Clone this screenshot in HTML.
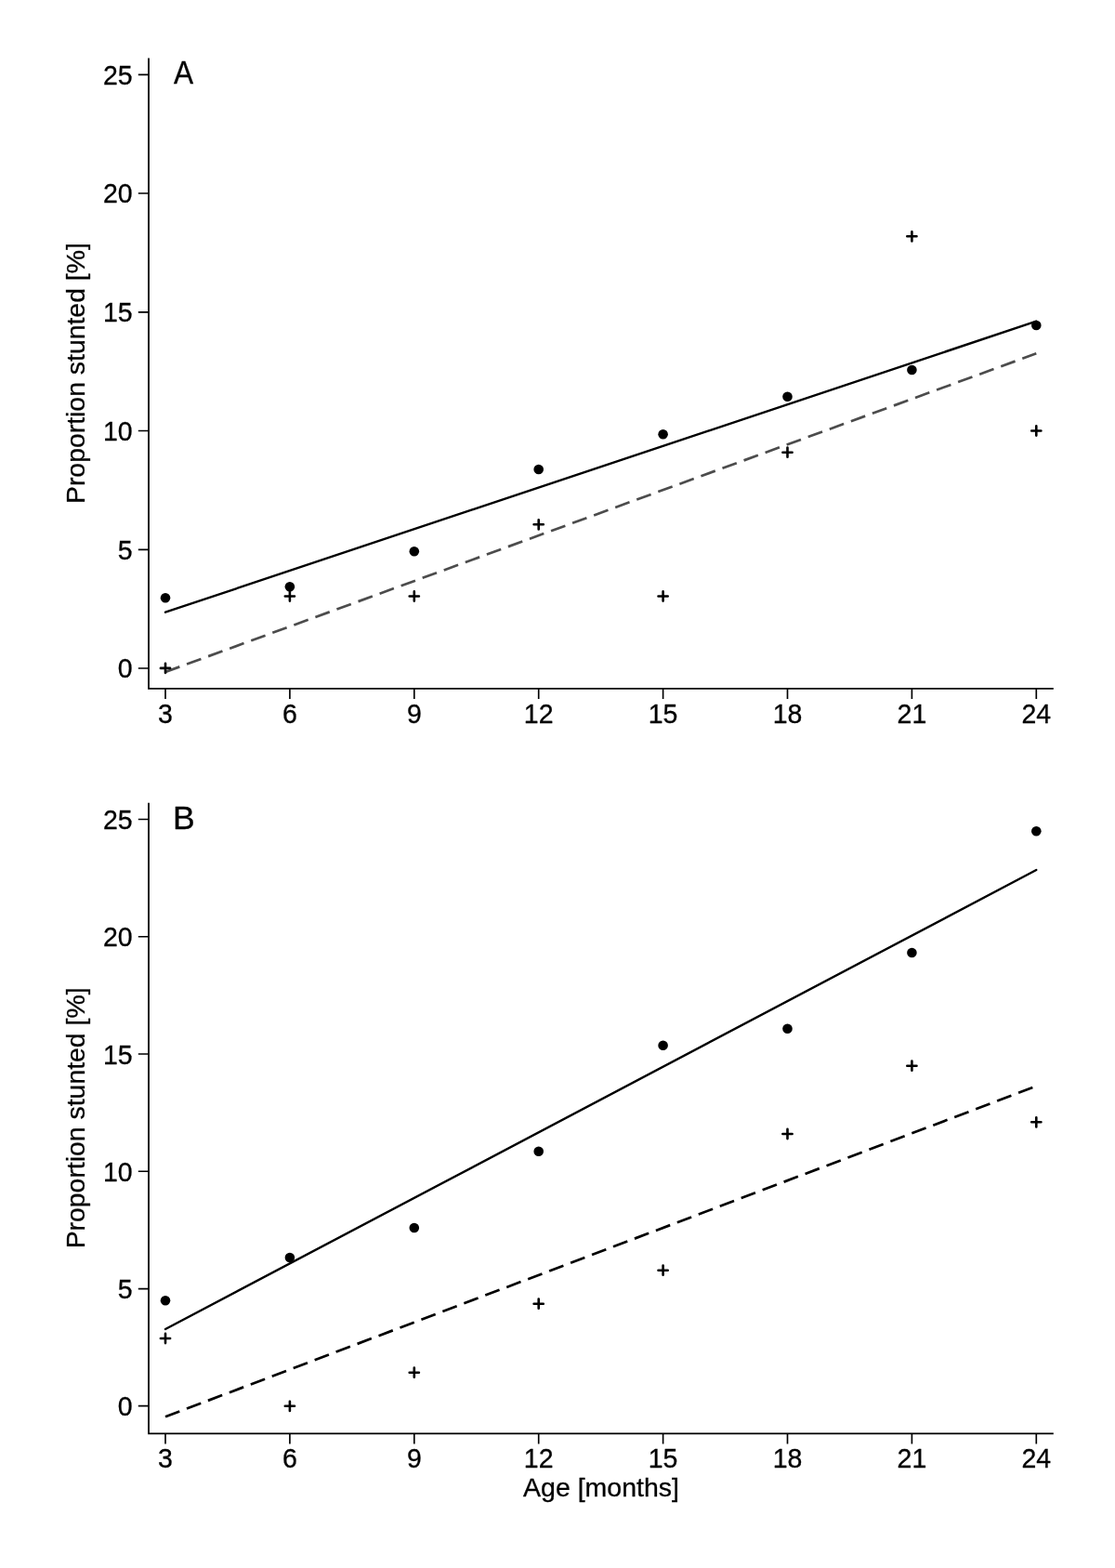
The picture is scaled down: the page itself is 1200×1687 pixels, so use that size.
<!DOCTYPE html>
<html lang="en">
<head>
<meta charset="utf-8">
<title>Proportion stunted by age</title>
<style>
html,body{margin:0;padding:0;background:#fff;}
body{width:1200px;height:1687px;overflow:hidden;}
svg{display:block;}
.t{font-family:"Liberation Sans",Arial,Helvetica,sans-serif;font-size:28.5px;fill:#000;stroke:#000;stroke-width:0.3px;}
.y{font-size:28.4px;}
.L{font-family:"Liberation Sans",Arial,Helvetica,sans-serif;font-size:34.5px;fill:#000;stroke:#000;stroke-width:0.3px;}
</style>
</head>
<body>
<svg width="1200" height="1687" viewBox="0 0 1200 1687">
<rect width="1200" height="1687" fill="#fff"/>
<path d="M160.0 62.5V740.8H1133.8" fill="none" stroke="#000" stroke-width="1.8" stroke-linejoin="miter"/>
<path d="M148.8 80.3H160.0M148.8 208.0H160.0M148.8 335.8H160.0M148.8 463.5H160.0M148.8 591.3H160.0M148.8 719.0H160.0M178.0 740.8V752.0M311.9 740.8V752.0M445.8 740.8V752.0M579.7 740.8V752.0M713.6 740.8V752.0M847.5 740.8V752.0M981.4 740.8V752.0M1115.3 740.8V752.0" fill="none" stroke="#000" stroke-width="1.65"/>
<text transform="translate(142.7 90.7) scale(1 1.02)" text-anchor="end" class="t">25</text>
<text transform="translate(142.7 218.4) scale(1 1.02)" text-anchor="end" class="t">20</text>
<text transform="translate(142.7 346.2) scale(1 1.02)" text-anchor="end" class="t">15</text>
<text transform="translate(142.7 473.9) scale(1 1.02)" text-anchor="end" class="t">10</text>
<text transform="translate(142.7 601.7) scale(1 1.02)" text-anchor="end" class="t">5</text>
<text transform="translate(142.7 729.4) scale(1 1.02)" text-anchor="end" class="t">0</text>
<text transform="translate(178.0 778.0) scale(1 1.02)" text-anchor="middle" class="t">3</text>
<text transform="translate(311.9 778.0) scale(1 1.02)" text-anchor="middle" class="t">6</text>
<text transform="translate(445.8 778.0) scale(1 1.02)" text-anchor="middle" class="t">9</text>
<text transform="translate(579.7 778.0) scale(1 1.02)" text-anchor="middle" class="t">12</text>
<text transform="translate(713.6 778.0) scale(1 1.02)" text-anchor="middle" class="t">15</text>
<text transform="translate(847.5 778.0) scale(1 1.02)" text-anchor="middle" class="t">18</text>
<text transform="translate(981.4 778.0) scale(1 1.02)" text-anchor="middle" class="t">21</text>
<text transform="translate(1115.3 778.0) scale(1 1.02)" text-anchor="middle" class="t">24</text>
<text transform="translate(91.0 401.6) rotate(-90)" text-anchor="middle" class="t y">Proportion stunted [%]</text>
<text transform="translate(187.0 90.3) scale(0.916 1.016)" class="L">A</text>
<path d="M178 658.7L1115.3 345.7" stroke="#000" stroke-width="2.4" stroke-linecap="round" fill="none"/>
<path d="M178 723L1115.3 380.3" stroke="#4c4c4c" stroke-width="2.7" stroke-dasharray="16.33 8.22" fill="none"/>
<circle cx="178.0" cy="643.3" r="5.3"/>
<circle cx="311.9" cy="631.3" r="5.3"/>
<circle cx="445.8" cy="593.3" r="5.3"/>
<circle cx="579.7" cy="505.0" r="5.3"/>
<circle cx="713.6" cy="467.3" r="5.3"/>
<circle cx="847.5" cy="426.7" r="5.3"/>
<circle cx="981.4" cy="398.0" r="5.3"/>
<circle cx="1115.3" cy="350.0" r="5.3"/>
<path d="M172.9 718.9h10.2M178.0 713.8v10.2M306.8 641.5h10.2M311.9 636.4v10.2M440.7 641.5h10.2M445.8 636.4v10.2M574.6 564.3h10.2M579.7 559.2v10.2M708.5 641.5h10.2M713.6 636.4v10.2M842.4 486.7h10.2M847.5 481.6v10.2M976.3 254.3h10.2M981.4 249.2v10.2M1110.2 463.5h10.2M1115.3 458.4v10.2" stroke="#000" stroke-width="2.6" stroke-linecap="round" fill="none"/>
<path d="M160.0 863.8V1542.3H1133.8" fill="none" stroke="#000" stroke-width="1.8" stroke-linejoin="miter"/>
<path d="M148.8 881.5H160.0M148.8 1007.7H160.0M148.8 1134.0H160.0M148.8 1260.2H160.0M148.8 1386.6H160.0M148.8 1512.65H160.0M178.0 1542.3V1553.5M311.9 1542.3V1553.5M445.8 1542.3V1553.5M579.7 1542.3V1553.5M713.6 1542.3V1553.5M847.5 1542.3V1553.5M981.4 1542.3V1553.5M1115.3 1542.3V1553.5" fill="none" stroke="#000" stroke-width="1.65"/>
<text transform="translate(142.7 892.1) scale(1 1.02)" text-anchor="end" class="t">25</text>
<text transform="translate(142.7 1018.3) scale(1 1.02)" text-anchor="end" class="t">20</text>
<text transform="translate(142.7 1144.6) scale(1 1.02)" text-anchor="end" class="t">15</text>
<text transform="translate(142.7 1270.8) scale(1 1.02)" text-anchor="end" class="t">10</text>
<text transform="translate(142.7 1397.2) scale(1 1.02)" text-anchor="end" class="t">5</text>
<text transform="translate(142.7 1523.2) scale(1 1.02)" text-anchor="end" class="t">0</text>
<text transform="translate(178.0 1579.1) scale(1 1.02)" text-anchor="middle" class="t">3</text>
<text transform="translate(311.9 1579.1) scale(1 1.02)" text-anchor="middle" class="t">6</text>
<text transform="translate(445.8 1579.1) scale(1 1.02)" text-anchor="middle" class="t">9</text>
<text transform="translate(579.7 1579.1) scale(1 1.02)" text-anchor="middle" class="t">12</text>
<text transform="translate(713.6 1579.1) scale(1 1.02)" text-anchor="middle" class="t">15</text>
<text transform="translate(847.5 1579.1) scale(1 1.02)" text-anchor="middle" class="t">18</text>
<text transform="translate(981.4 1579.1) scale(1 1.02)" text-anchor="middle" class="t">21</text>
<text transform="translate(1115.3 1579.1) scale(1 1.02)" text-anchor="middle" class="t">24</text>
<text transform="translate(91.0 1202.9) rotate(-90)" text-anchor="middle" class="t y">Proportion stunted [%]</text>
<text transform="translate(185.9 891.6) scale(1.03 1.02)" class="L">B</text>
<path d="M178 1430L1115.3 936" stroke="#000" stroke-width="2.4" stroke-linecap="round" fill="none"/>
<path d="M178 1524.3L1115.3 1168.5" stroke="#000" stroke-width="2.7" stroke-dasharray="16.33 8.22" fill="none"/>
<circle cx="178.0" cy="1399.3" r="5.3"/>
<circle cx="311.9" cy="1353.0" r="5.3"/>
<circle cx="445.8" cy="1321.0" r="5.3"/>
<circle cx="579.7" cy="1238.7" r="5.3"/>
<circle cx="713.6" cy="1124.7" r="5.3"/>
<circle cx="847.5" cy="1106.7" r="5.3"/>
<circle cx="981.4" cy="1025.0" r="5.3"/>
<circle cx="1115.3" cy="894.3" r="5.3"/>
<path d="M172.9 1440.0h10.2M178.0 1434.9v10.2M306.8 1512.8h10.2M311.9 1507.7v10.2M440.7 1476.7h10.2M445.8 1471.6v10.2M574.6 1402.7h10.2M579.7 1397.6v10.2M708.5 1366.7h10.2M713.6 1361.6v10.2M842.4 1220.0h10.2M847.5 1214.9v10.2M976.3 1146.7h10.2M981.4 1141.6v10.2M1110.2 1207.3h10.2M1115.3 1202.2v10.2" stroke="#000" stroke-width="2.6" stroke-linecap="round" fill="none"/>
<text transform="translate(647 1610)" text-anchor="middle" class="t">Age [months]</text>
</svg>
</body>
</html>
